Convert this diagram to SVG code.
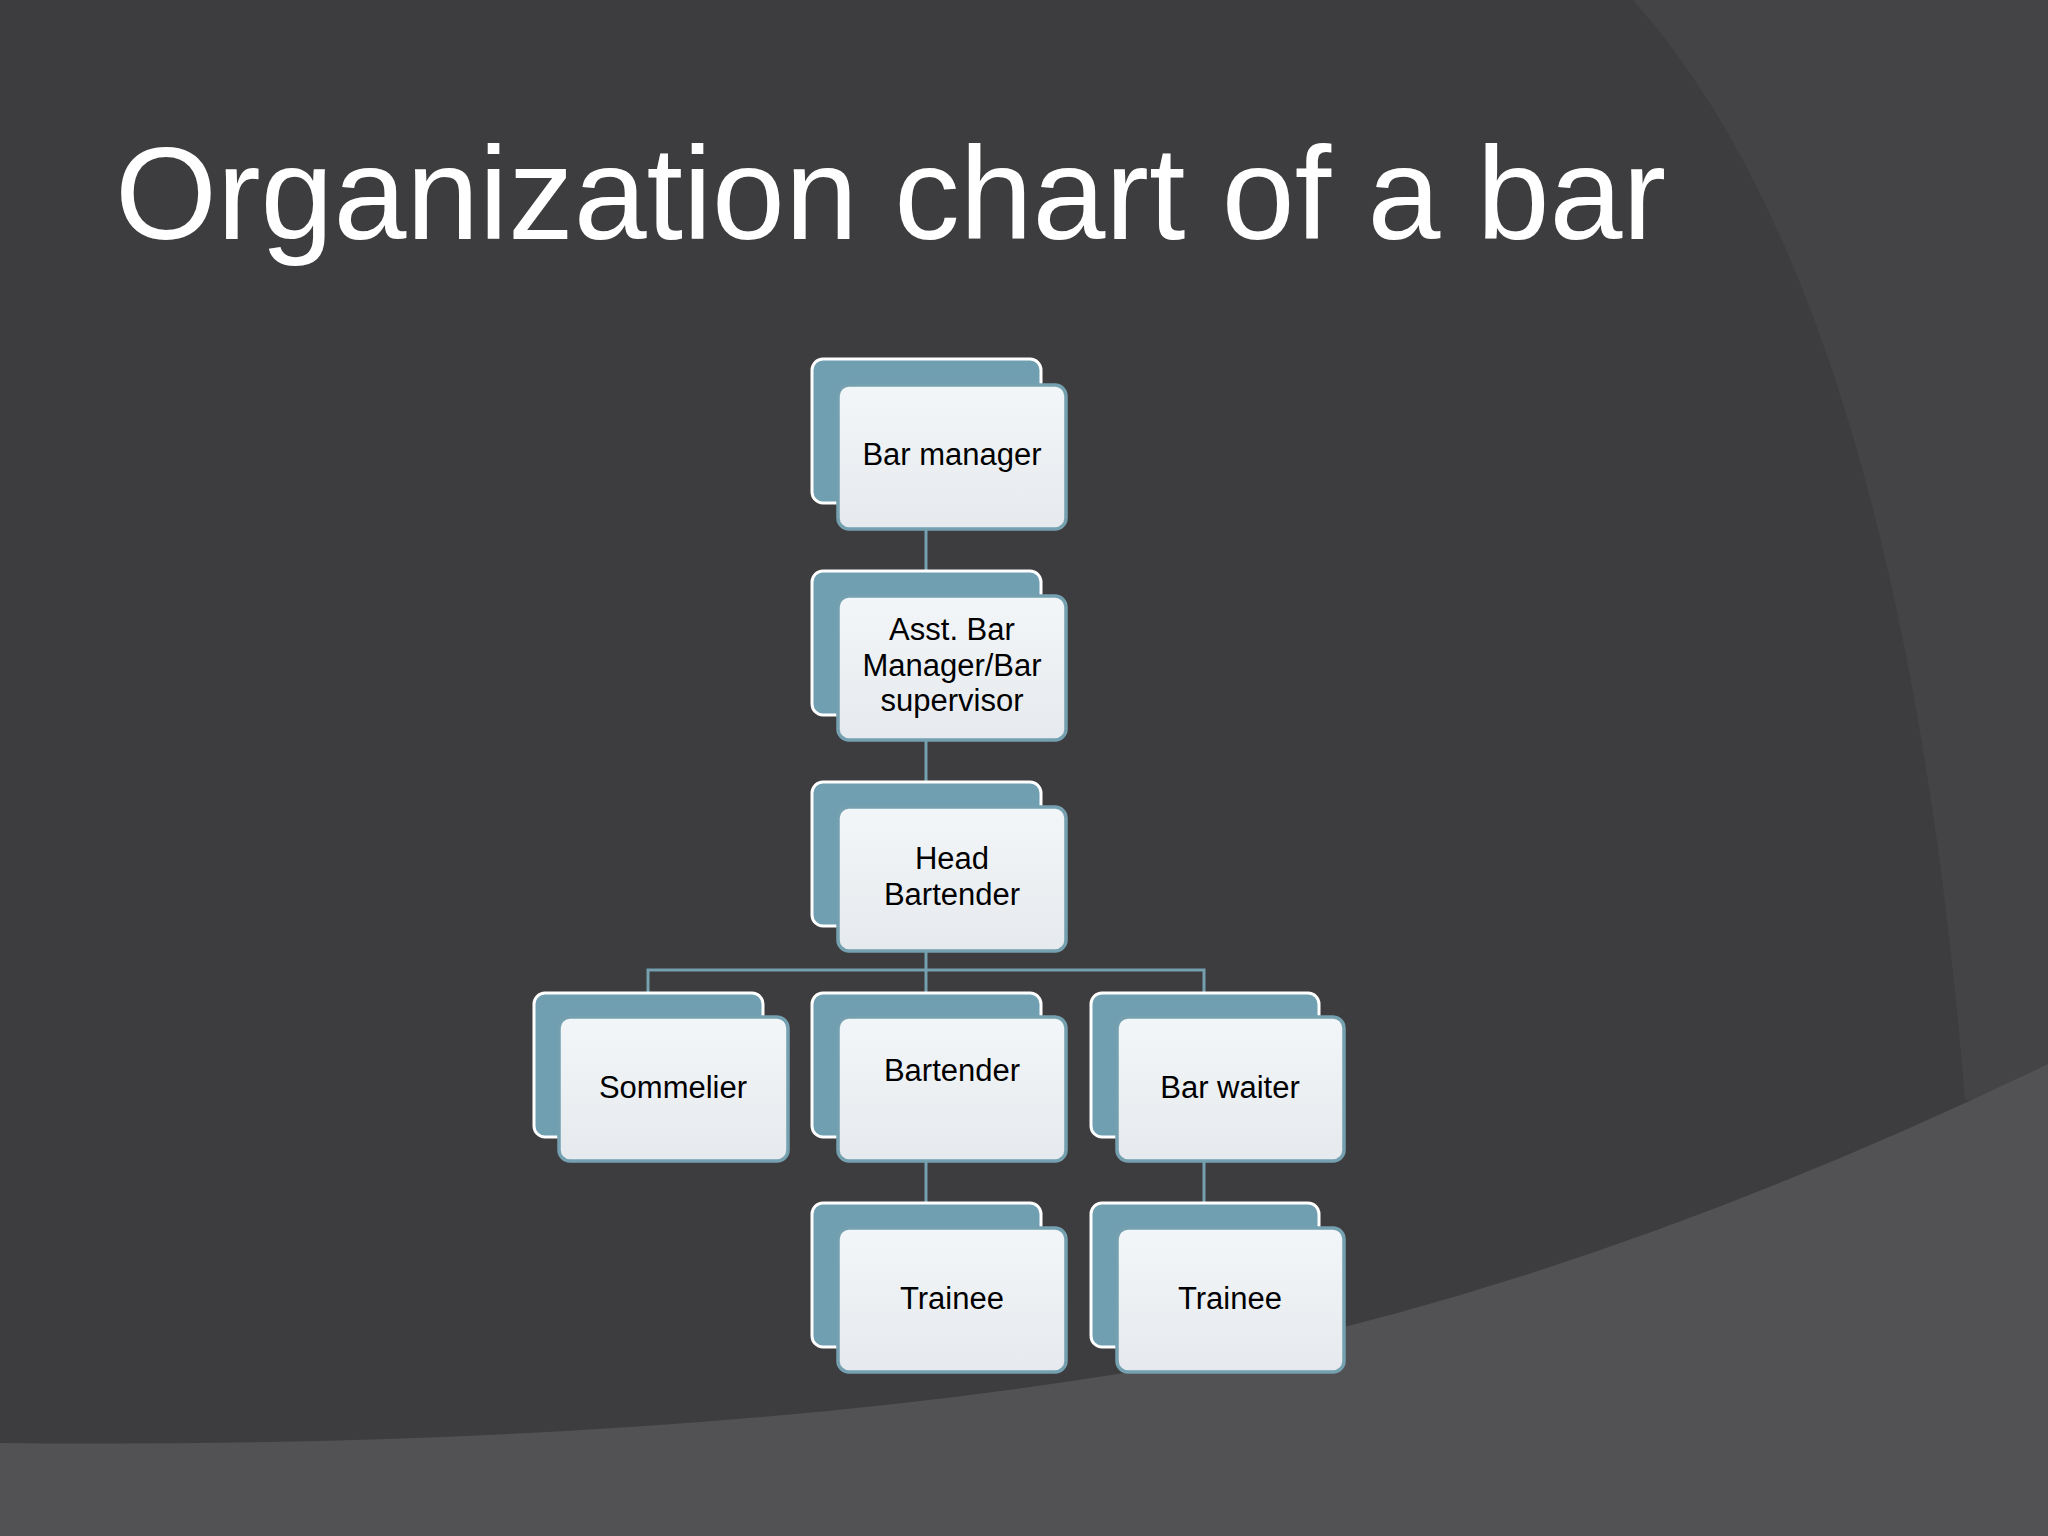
<svg xmlns="http://www.w3.org/2000/svg" width="2048" height="1536" viewBox="0 0 2048 1536">
<defs>
<linearGradient id="fg" x1="0" y1="0" x2="0" y2="1"><stop offset="0" stop-color="#f2f6f8"/><stop offset="1" stop-color="#e6eaee"/></linearGradient>
<style>
.b{fill:#6f9fb0;stroke:#ffffff;stroke-width:3}
.f{fill:url(#fg);stroke:#74a0b0;stroke-width:3.5}
.t{font-family:"Liberation Sans",Arial,sans-serif;font-size:31px;fill:#000;text-anchor:middle;dominant-baseline:central}
.c{stroke:#74a0b0;stroke-width:3;fill:none}
</style>
</defs>
<rect width="2048" height="1536" fill="#3d3c3e"/>
<path d="M1633 0 Q1900 300 1965 1100 L2048 1100 L2048 0 Z" fill="#444346"/>
<path d="M0 1443 Q700 1450 1200 1360 Q1600 1280 2048 1064 L2048 1536 L0 1536 Z" fill="#525154"/>
<text x="115" y="239" font-family="'Liberation Sans',Arial,sans-serif" font-size="131" fill="#fff">Organization chart of a bar</text>
<g id="connectors">
<path class="c" d="M926 529V571M926 740V782M926 951V993M648 993V970H1204V993M926 1161V1203M1204 1161V1203"/>
</g>
<g id="n1"><rect class="b" x="812" y="359" width="229" height="144" rx="11"/><rect class="f" x="838" y="385" width="228" height="144" rx="11"/><text class="t" x="952" y="454">Bar manager</text></g>
<g id="n2"><rect class="b" x="812" y="571" width="229" height="144" rx="11"/><rect class="f" x="838" y="596" width="228" height="144" rx="11"/><text class="t" x="952" y="629">Asst. Bar</text><text class="t" x="952" y="665">Manager/Bar</text><text class="t" x="952" y="700">supervisor</text></g>
<g id="n3"><rect class="b" x="812" y="782" width="229" height="144" rx="11"/><rect class="f" x="838" y="807" width="228" height="144" rx="11"/><text class="t" x="952" y="858">Head</text><text class="t" x="952" y="894">Bartender</text></g>
<g id="n4"><rect class="b" x="534" y="993" width="229" height="144" rx="11"/><rect class="f" x="559" y="1017" width="229" height="144" rx="11"/><text class="t" x="673" y="1087">Sommelier</text></g>
<g id="n5"><rect class="b" x="812" y="993" width="229" height="144" rx="11"/><rect class="f" x="838" y="1017" width="228" height="144" rx="11"/><text class="t" x="952" y="1070">Bartender</text></g>
<g id="n6"><rect class="b" x="1091" y="993" width="228" height="144" rx="11"/><rect class="f" x="1117" y="1017" width="227" height="144" rx="11"/><text class="t" x="1230" y="1087">Bar waiter</text></g>
<g id="n7"><rect class="b" x="812" y="1203" width="229" height="144" rx="11"/><rect class="f" x="838" y="1228" width="228" height="144" rx="11"/><text class="t" x="952" y="1298">Trainee</text></g>
<g id="n8"><rect class="b" x="1091" y="1203" width="228" height="144" rx="11"/><rect class="f" x="1117" y="1228" width="227" height="144" rx="11"/><text class="t" x="1230" y="1298">Trainee</text></g>
</svg>
